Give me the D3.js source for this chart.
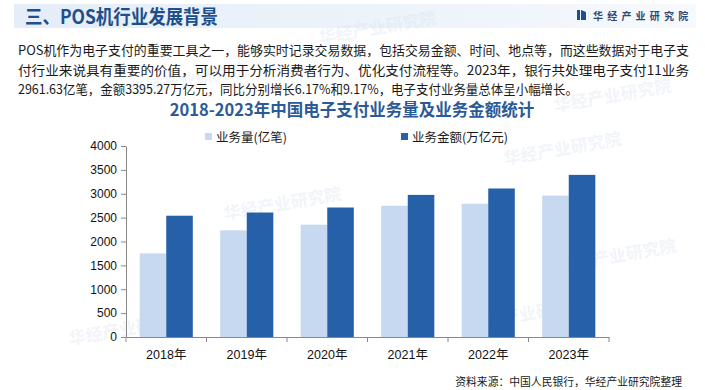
<!DOCTYPE html>
<html><head><meta charset="utf-8">
<script src="https://cdn.jsdelivr.net/npm/d3@7"></script>
<style>
html,body{margin:0;padding:0;background:#fff;}
svg{display:block;font-family:"Noto Sans CJK SC","Noto Sans",sans-serif;}
</style></head>
<body>
<svg id="c" width="705" height="390"></svg>
<script>
const categories = ["2018年","2019年","2020年","2021年","2022年","2023年"];
const volume = [1751.92, 2233.88, 2352.25, 2749.69, 2789.65, 2961.63];
const amount = [2539.70, 2607.04, 2711.81, 2976.22, 3110.13, 3395.27];
const seriesNames = ["业务量(亿笔)", "业务金额(万亿元)"];
const yTicks = [0,500,1000,1500,2000,2500,3000,3500,4000];
const paragraph = [
  "POS机作为电子支付的重要工具之一，能够实时记录交易数据，包括交易金额、时间、地点等，而这些数据对于电子支",
  "付行业来说具有重要的价值，可以用于分析消费者行为、优化支付流程等。2023年，银行共处理电子支付11业务",
  "2961.63亿笔，金额3395.27万亿元，同比分别增长6.17%和9.17%，电子支付业务量总体呈小幅增长。"
];

const svg = d3.select("#c");
const defs = svg.append("defs");
const g1 = defs.append("linearGradient").attr("id","hdr").attr("x1","0").attr("x2","1");
g1.append("stop").attr("offset","0").attr("stop-color","#e4edf8");
g1.append("stop").attr("offset","0.7").attr("stop-color","#f0f5fb");
g1.append("stop").attr("offset","1").attr("stop-color","#f7f9fc");

// header band
svg.append("rect").attr("x",14).attr("y",4).attr("width",682).attr("height",24).attr("fill","url(#hdr)");

// watermarks (very faint)
const wm = [[320,44],[130,96],[505,165],[555,112],[225,220],[560,272],[470,330],[70,345]];
wm.forEach(([x,y])=>{
  svg.append("text").attr("x",x).attr("y",y).attr("font-size",17).attr("font-weight",700)
    .attr("fill","#d3deed").attr("opacity",0.3)
    .attr("transform",`rotate(-10,${x},${y})`).text("华经产业研究院");
});

svg.append("text").attr("x",25).attr("y",24).attr("font-size",19.5).attr("font-weight",700)
  .attr("fill","#1c4f8c").attr("textLength",193).attr("lengthAdjust","spacingAndGlyphs")
  .text("三、POS机行业发展背景");
// logo
svg.append("rect").attr("x",577).attr("y",10).attr("width",3).attr("height",10).attr("fill","#1c4f8c");
svg.append("path").attr("d","M581,10 L586,12 L586,20 L581,20 Z").attr("fill","#1c4f8c");
svg.append("text").attr("x",593).attr("y",19.5).attr("font-size",10).attr("font-weight",700)
  .attr("letter-spacing","4.2px").attr("fill","#2b4a7a").text("华经产业研究院");

// paragraph
const lens = [671, 671, 560];
paragraph.forEach((t,i)=>{
  svg.append("text").attr("x",18).attr("y",55+i*19.5).attr("font-size",13)
    .attr("fill","#1a1a1a").attr("textLength",lens[i]).attr("lengthAdjust","spacingAndGlyphs").text(t);
});

// chart title
svg.append("text").attr("x",352).attr("y",116).attr("text-anchor","middle")
  .attr("font-size",16.5).attr("font-weight",700).attr("fill","#2a5a98")
  .text("2018-2023年中国电子支付业务量及业务金额统计");

const colors = ["#c6d9f1","#2660a8"];
// legend
const legX = [205, 401];
seriesNames.forEach((n,i)=>{
  svg.append("rect").attr("x",legX[i]).attr("y",133).attr("width",7).attr("height",7).attr("fill",colors[i]);
  svg.append("text").attr("x",legX[i]+11).attr("y",141.5).attr("font-size",12.5)
    .attr("fill","#1a1a1a").text(n);
});

// scales
const x0 = 126, x1 = 609, yb = 337, yt = 146;
const x = d3.scaleBand().domain(categories).range([x0,x1]).paddingInner(0.34).paddingOuter(0.17);
const xs = d3.scaleBand().domain([0,1]).range([0,x.bandwidth()]);
const y = d3.scaleLinear().domain([0,4000]).range([yb,yt]);

const data = categories.map((c,i)=>({c, v:[volume[i],amount[i]]}));
const grp = svg.append("g").selectAll("g").data(data).join("g")
  .attr("transform",d=>`translate(${x(d.c)},0)`);
grp.selectAll("rect").data(d=>d.v.map((v,k)=>({v,k}))).join("rect")
  .attr("x",d=>xs(d.k)).attr("width",xs.bandwidth())
  .attr("y",d=>y(d.v)).attr("height",d=>yb-y(d.v)).attr("fill",d=>colors[d.k]);

// y axis
const ya = svg.append("g").attr("transform",`translate(${x0},0)`)
  .call(d3.axisLeft(y).tickValues(yTicks).tickSize(5).tickPadding(4).tickSizeOuter(0).tickFormat(d3.format("d")));
ya.select(".domain").attr("stroke","#888");
ya.selectAll(".tick line").attr("stroke","#888");
ya.selectAll(".tick text").attr("font-size",12).attr("fill","#111")
  .attr("font-family","'Liberation Sans',Arial,sans-serif");

// x axis
const xa = svg.append("g").attr("transform",`translate(0,${yb})`)
  .call(d3.axisBottom(x).tickSize(0).tickPadding(13));
xa.select(".domain").attr("stroke","#888");
xa.selectAll(".tick text").attr("font-size",12.5).attr("fill","#111")
  .attr("font-family","'Liberation Sans','Noto Sans CJK SC',sans-serif");
// boundary ticks
const bounds = categories.map((c,i)=>x0 + i*x.step()).concat([x1]);
svg.append("g").selectAll("line").data(bounds).join("line")
  .attr("x1",d=>d).attr("x2",d=>d).attr("y1",yb).attr("y2",yb+5).attr("stroke","#888");

// source
svg.append("text").attr("x",682).attr("y",386).attr("text-anchor","end")
  .attr("font-size",10.8).attr("fill","#1a1a1a").text("资料来源：中国人民银行，华经产业研究院整理");
</script>
</body></html>
